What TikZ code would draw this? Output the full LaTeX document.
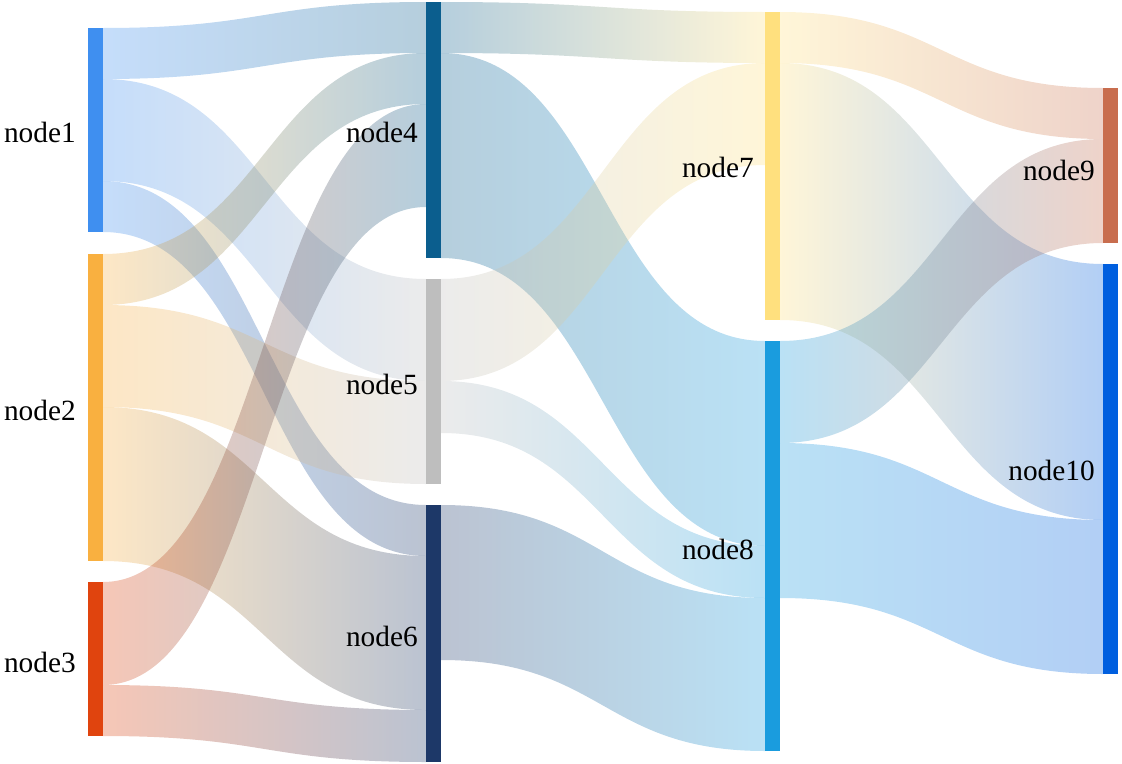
\documentclass[tikz,border=0pt]{standalone}
\usepackage{fontspec}
\setmainfont{Liberation Serif}
\definecolor{cA}{HTML}{3F8FF0}
\definecolor{cB}{HTML}{F9B040}
\definecolor{cC}{HTML}{E0440E}
\definecolor{cD}{HTML}{0B5E8E}
\definecolor{cE}{HTML}{BEBEBE}
\definecolor{cF}{HTML}{1D3868}
\definecolor{cG}{HTML}{FFE07E}
\definecolor{cH}{HTML}{1A9CDE}
\definecolor{cI}{HTML}{C86D4E}
\definecolor{cJ}{HTML}{005FDF}
\newcommand{\flowlink}[8]{%
  \pgfmathsetmacro{\xm}{(#1+#4)/2}
  \shade[left color=#7, right color=#8, fill opacity=0.3]
   (#1,#2) .. controls (\xm,#2) and (\xm,#5) .. (#4,#5) -- (#4,#6)
   .. controls (\xm,#6) and (\xm,#3) .. (#1,#3) -- cycle;}
\begin{document}
\begin{tikzpicture}[x=0.75pt,y=-0.75pt,
  bar/.style={draw=none,inner sep=0,minimum width=15*0.75pt},
  lab/.style={anchor=east,font=\fontsize{22}{24}\selectfont,inner sep=0}]
\useasboundingbox (0,0) rectangle (1122,764);
% flows
\flowlink{103}{28}{79}{426}{2}{53}{cA}{cD}
\flowlink{103}{79}{181}{426}{279}{381}{cA}{cE}
\flowlink{103}{181}{232}{426}{505}{556}{cA}{cF}
\flowlink{103}{254}{305}{426}{53}{104}{cB}{cD}
\flowlink{103}{305}{407}{426}{381}{484}{cB}{cE}
\flowlink{103}{407}{561}{426}{556}{710}{cB}{cF}
\flowlink{103}{582}{685}{426}{104}{207}{cC}{cD}
\flowlink{103}{685}{736}{426}{710}{762}{cC}{cF}
\flowlink{441}{2}{53}{765}{12}{63}{cD}{cG}
\flowlink{441}{53}{258}{765}{341}{546}{cD}{cH}
\flowlink{441}{279}{381}{765}{63}{165}{cE}{cG}
\flowlink{441}{381}{433}{765}{546}{598}{cE}{cH}
\flowlink{441}{505}{660}{765}{598}{751}{cF}{cH}
\flowlink{780}{12}{63}{1103}{88}{139}{cG}{cI}
\flowlink{780}{63}{320}{1103}{264}{520}{cG}{cJ}
\flowlink{780}{341}{443}{1103}{139}{243}{cH}{cI}
\flowlink{780}{443}{598}{1103}{520}{674}{cH}{cJ}
% bars
\fill[cA] (88,28) rectangle (103,232) coordinate (n1);
\fill[cB] (88,254) rectangle (103,561);
\fill[cC] (88,582) rectangle (103,736);
\fill[cD] (426,2) rectangle (441,258);
\fill[cE] (426,279) rectangle (441,484);
\fill[cF] (426,505) rectangle (441,762);
\fill[cG] (765,12) rectangle (780,320);
\fill[cH] (765,341) rectangle (780,751);
\fill[cI] (1103,88) rectangle (1118,243);
\fill[cJ] (1103,264) rectangle (1118,674);
% labels
\node[lab] (l1) at (76,132) {node1};
\node[lab] (l2) at (76,410) {node2};
\node[lab] (l3) at (76,662) {node3};
\node[lab] (l4) at (418,132) {node4};
\node[lab] (l5) at (418,384) {node5};
\node[lab] (l6) at (418,636) {node6};
\node[lab] (l7) at (754,167) {node7};
\node[lab] (l8) at (754,549) {node8};
\node[lab] (l9) at (1095,170) {node9};
\node[lab] (l10) at (1095,470) {node10};
\end{tikzpicture}
\end{document}
